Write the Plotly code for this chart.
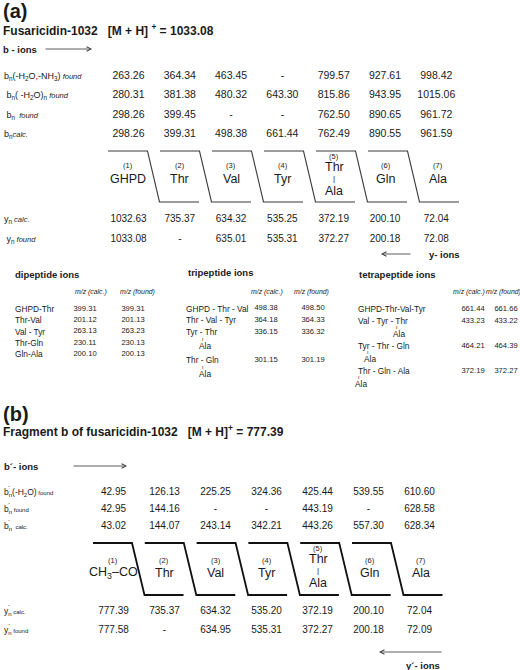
import plotly.graph_objects as go

# ------------------------------------------------------------------ data
# panel (a): fusaricidin-1032
b_loss_h2o_nh3 = [263.26, 364.34, 463.45, None, 799.57, 927.61, 998.42]
b_loss_h2o = [280.31, 381.38, 480.32, 643.30, 815.86, 943.95, 1015.06]
b_found = [298.26, 399.45, None, None, 762.50, 890.65, 961.72]
b_calc = [298.26, 399.31, 498.38, 661.44, 762.49, 890.55, 961.59]
y_calc = [1032.63, 735.37, 634.32, 535.25, 372.19, 200.10, 72.04]
y_found = [1033.08, None, 635.01, 535.31, 372.27, 200.18, 72.08]

residues_a = ["GHPD", "Thr", "Val", "Tyr", "Thr", "Gln", "Ala"]
residues_b = ["CH<sub>3</sub>–CO", "Thr", "Val", "Tyr", "Thr", "Gln", "Ala"]
side_chain = [None, None, None, None, "Ala", None, None]

di_names = ["GHPD-Thr", "Thr-Val", "Val - Tyr", "Thr-Gln", "Gln-Ala"]
di_calc = [399.31, 201.12, 263.13, 230.11, 200.10]
di_found = [399.31, 201.13, 263.23, 230.13, 200.13]
di_branch = [None, None, None, None, None]

tri_names = ["GHPD - Thr - Val", "Thr - Val - Tyr", "Tyr - Thr", "Thr - Gln"]
tri_calc = [498.38, 364.18, 336.15, 301.15]
tri_found = [498.50, 364.33, 336.32, 301.19]
tri_branch = [None, None, "Ala", "Ala"]

tetra_names = ["GHPD-Thr-Val-Tyr", "Val - Tyr - Thr", "Tyr - Thr - Gln", "Thr - Gln - Ala"]
tetra_calc = [661.44, 433.23, 464.21, 372.19]
tetra_found = [661.66, 433.22, 464.39, 372.27]
tetra_branch = [None, "Ala", "Ala", "Ala"]

# panel (b): fragment b
bp_loss_h2o = [42.95, 126.13, 225.25, 324.36, 425.44, 539.55, 610.60]
bp_found = [42.95, 144.16, None, None, 443.19, None, 628.58]
bp_calc = [43.02, 144.07, 243.14, 342.21, 443.26, 557.30, 628.34]
yp_calc = [777.39, 735.37, 634.32, 535.20, 372.19, 200.10, 72.04]
yp_found = [777.58, None, 634.95, 535.31, 372.27, 200.18, 72.09]

title_a = "Fusaricidin-1032"
mh_a = 1033.08
title_b = "Fragment b of fusaricidin-1032"
mh_b = 777.39

# ------------------------------------------------------------------ style
FONT = "Liberation Sans, Arial, sans-serif"
INK = "#1a1a1a"
fig = go.Figure()
ann = []


def fmt(v):
    return "-" if v is None else f"{v:.2f}"


def label(x, y, s, size, anchor="left", color=INK):
    ann.append(dict(x=x, y=y, xref="x", yref="y", text=s, showarrow=False,
                    xanchor=anchor, yanchor="middle",
                    font=dict(family=FONT, size=size, color=color)))


def arrow(x_tail, x_head, y):
    ann.append(dict(x=x_head, y=y, ax=x_tail, ay=y, xref="x", yref="y",
                    axref="x", ayref="y", text="", showarrow=True,
                    arrowhead=5, arrowsize=1.1, arrowwidth=0.8,
                    arrowcolor="#333", standoff=0, startstandoff=0))


def value_row(vals, y, x0, step, size):
    xs = [x0 + step * i for i in range(len(vals))]
    fig.add_trace(go.Scatter(
        x=xs, y=[y] * len(vals), mode="text",
        text=[fmt(v) for v in vals], textposition="middle center",
        textfont=dict(family=FONT, size=size, color=INK),
        hoverinfo="skip", showlegend=False))


def frag_line(x0, pitch, w, slant, y_top, y_bot, width, color, n=6):
    xs, ys = [], []
    for i in range(n):
        L = x0 + pitch * i
        R = L + w
        xs += [L, R, R + slant, R + slant + w, None]
        ys += [y_top, y_top, y_bot, y_bot, None]
    fig.add_trace(go.Scatter(x=xs, y=ys, mode="lines",
                             line=dict(color=color, width=width),
                             hoverinfo="skip", showlegend=False))


def residues(names, cx0, step, y_num, y_name, y_top5, size_name, bar="|"):
    for j, nm in enumerate(names):
        cx = cx0 + step * j
        if side_chain[j]:
            label(cx, y_top5, f"({j + 1})", 7.5, "center")
            label(cx, y_top5 + 11, nm, size_name, "center")
            label(cx, y_top5 + 22, bar, 8, "center")
            label(cx, y_top5 + 35, side_chain[j], size_name, "center")
        else:
            label(cx, y_num, f"({j + 1})", 7.5, "center")
            label(cx, y_name, nm, size_name, "center")


def table(title, tx, ty, names, calc, found, branch, xl, xc, xf, hc, hf,
          y0, step, extra, bdy, boff):
    label(tx, ty, f"<b>{title}</b>", 9.5)
    label(hc, 292, "<i>m/z (calc.)</i>", 6.9, "center")
    label(hf, 292, "<i>m/z (found)</i>", 6.9, "center")
    y = y0
    ys = []
    for k, nm in enumerate(names):
        ys.append(y)
        label(xl, y, nm, 8.3)
        if branch[k]:
            bx = xl + boff[k]
            label(bx - 2.5, y + bdy * 0.5, "ı", 5.5, "center")
            label(bx, y + bdy, branch[k], 8.3, "center")
            y += step + extra
        else:
            y += step
    for vals, xx in ((calc, xc), (found, xf)):
        fig.add_trace(go.Scatter(
            x=[xx] * len(vals), y=ys, mode="text",
            text=[fmt(v) for v in vals], textposition="middle center",
            textfont=dict(family=FONT, size=7.6, color=INK),
            hoverinfo="skip", showlegend=False))


# ------------------------------------------------------------------ panel (a)
label(1, 11, "<b>(a)</b>", 20)
label(1, 30, f"<b>{title_a}   [M + H] <sup>+</sup> = {mh_a:.2f}</b>", 12)
label(1, 49, "<b>b - ions</b>", 9.5)
arrow(44, 92, 49)

rows_a = [
    (b_loss_h2o_nh3, 76, "b<sub>n</sub>(-H<sub>2</sub>O,-NH<sub>3</sub>)<span style='font-size:7.5px'><i> found</i></span>"),
    (b_loss_h2o, 95.5, " b<sub>n</sub>( -H<sub>2</sub>O)<sub>n</sub><span style='font-size:7.5px'><i> found</i></span>"),
    (b_found, 115, " b<sub>n</sub><span style='font-size:7.5px'><i>  found</i></span>"),
    (b_calc, 134.5, "b<sub>n</sub><span style='font-size:7.5px'><i>calc.</i></span>"),
]
for vals, yy, lab in rows_a:
    value_row(vals, yy, 128.5, 51.3, 10.5)
    label(1.5, yy, lab, 9)

frag_line(108, 52, 39.5, 12, 151, 202, 1.1, "#3a3a3a")
residues(residues_a, 128, 51.6, 165, 178.5, 156, 12.5)

rows_ya = [
    (y_calc, 219, "y<sub>n</sub><span style='font-size:7.5px'><i> calc.</i></span>"),
    (y_found, 239, " y<sub>n</sub><span style='font-size:7.5px'><i> found</i></span>"),
]
for vals, yy, lab in rows_ya:
    value_row(vals, yy, 128.5, 51.3, 10)
    label(1.5, yy, lab, 9)
arrow(412, 381, 254)
label(427, 254, "<b>y- ions</b>", 9.5)

table("dipeptide ions", 13, 274, di_names, di_calc, di_found, di_branch,
      13, 85, 133, 91, 137, 309, 11.3, 0, 0, [0] * 5)
table("tripeptide ions", 186, 272, tri_names, tri_calc, tri_found, tri_branch,
      184, 266, 313, 267, 311, 308.5, 11.8, 16, 14, [0, 0, 21, 21])
table("tetrapeptide ions", 357, 274, tetra_names, tetra_calc, tetra_found,
      tetra_branch, 356, 473, 506, 468.5, 503.5, 309, 12, 13, 12.5, [0, 43, 14, 5])

# ------------------------------------------------------------------ panel (b)
label(1, 414, "<b>(b)</b>", 20)
label(1, 431, f"<b>{title_b}   [M + H]<sup>+</sup> = {mh_b:.2f}</b>", 12)
label(2, 466, "<b>b´- ions</b>", 9.5)
arrow(72, 127, 466)

rows_b = [
    (bp_loss_h2o, 492, "b", "<sub>n</sub>(-H<sub>2</sub>O)<span style='font-size:6px'> found</span>"),
    (bp_found, 509, "b", "<sub>n</sub><span style='font-size:6px'> found</span>"),
    (bp_calc, 526, "b", "<sub>n</sub><span style='font-size:6px'>  calc.</span>"),
]
for vals, yy, base, rest in rows_b:
    value_row(vals, yy, 113.5, 51, 10)
    label(2, yy, base + rest, 8.5)
    label(9.2, yy - 3.5, "´", 8, "center")

frag_line(93, 51.8, 39, 12.5, 543, 595, 1.8, "#111")
residues(residues_b, 113, 51.3, 560, 573, 548, 12.5)

rows_yb = [
    (yp_calc, 611, "y", "<sub>n</sub><span style='font-size:6px'> calc.</span>"),
    (yp_found, 630, "y", "<sub>n</sub><span style='font-size:6px'> found</span>"),
]
for vals, yy, base, rest in rows_yb:
    value_row(vals, yy, 113.5, 51, 10)
    label(2, yy, base + rest, 8.5)
    label(9.0, yy - 3.5, "´", 8, "center")
arrow(443, 379, 652)
label(404, 665, "<b>y´- ions</b>", 9.5)

# ------------------------------------------------------------------ layout
fig.update_layout(
    width=520, height=670, autosize=False,
    margin=dict(l=0, r=0, t=0, b=0, pad=0),
    paper_bgcolor="white", plot_bgcolor="white",
    xaxis=dict(range=[0, 520], visible=False, fixedrange=True),
    yaxis=dict(range=[670, 0], visible=False, fixedrange=True),
    annotations=ann,
    showlegend=False,
)

fig.write_html("out.html", config={"displayModeBar": False},
               post_script="document.body.style.margin='0px';")
